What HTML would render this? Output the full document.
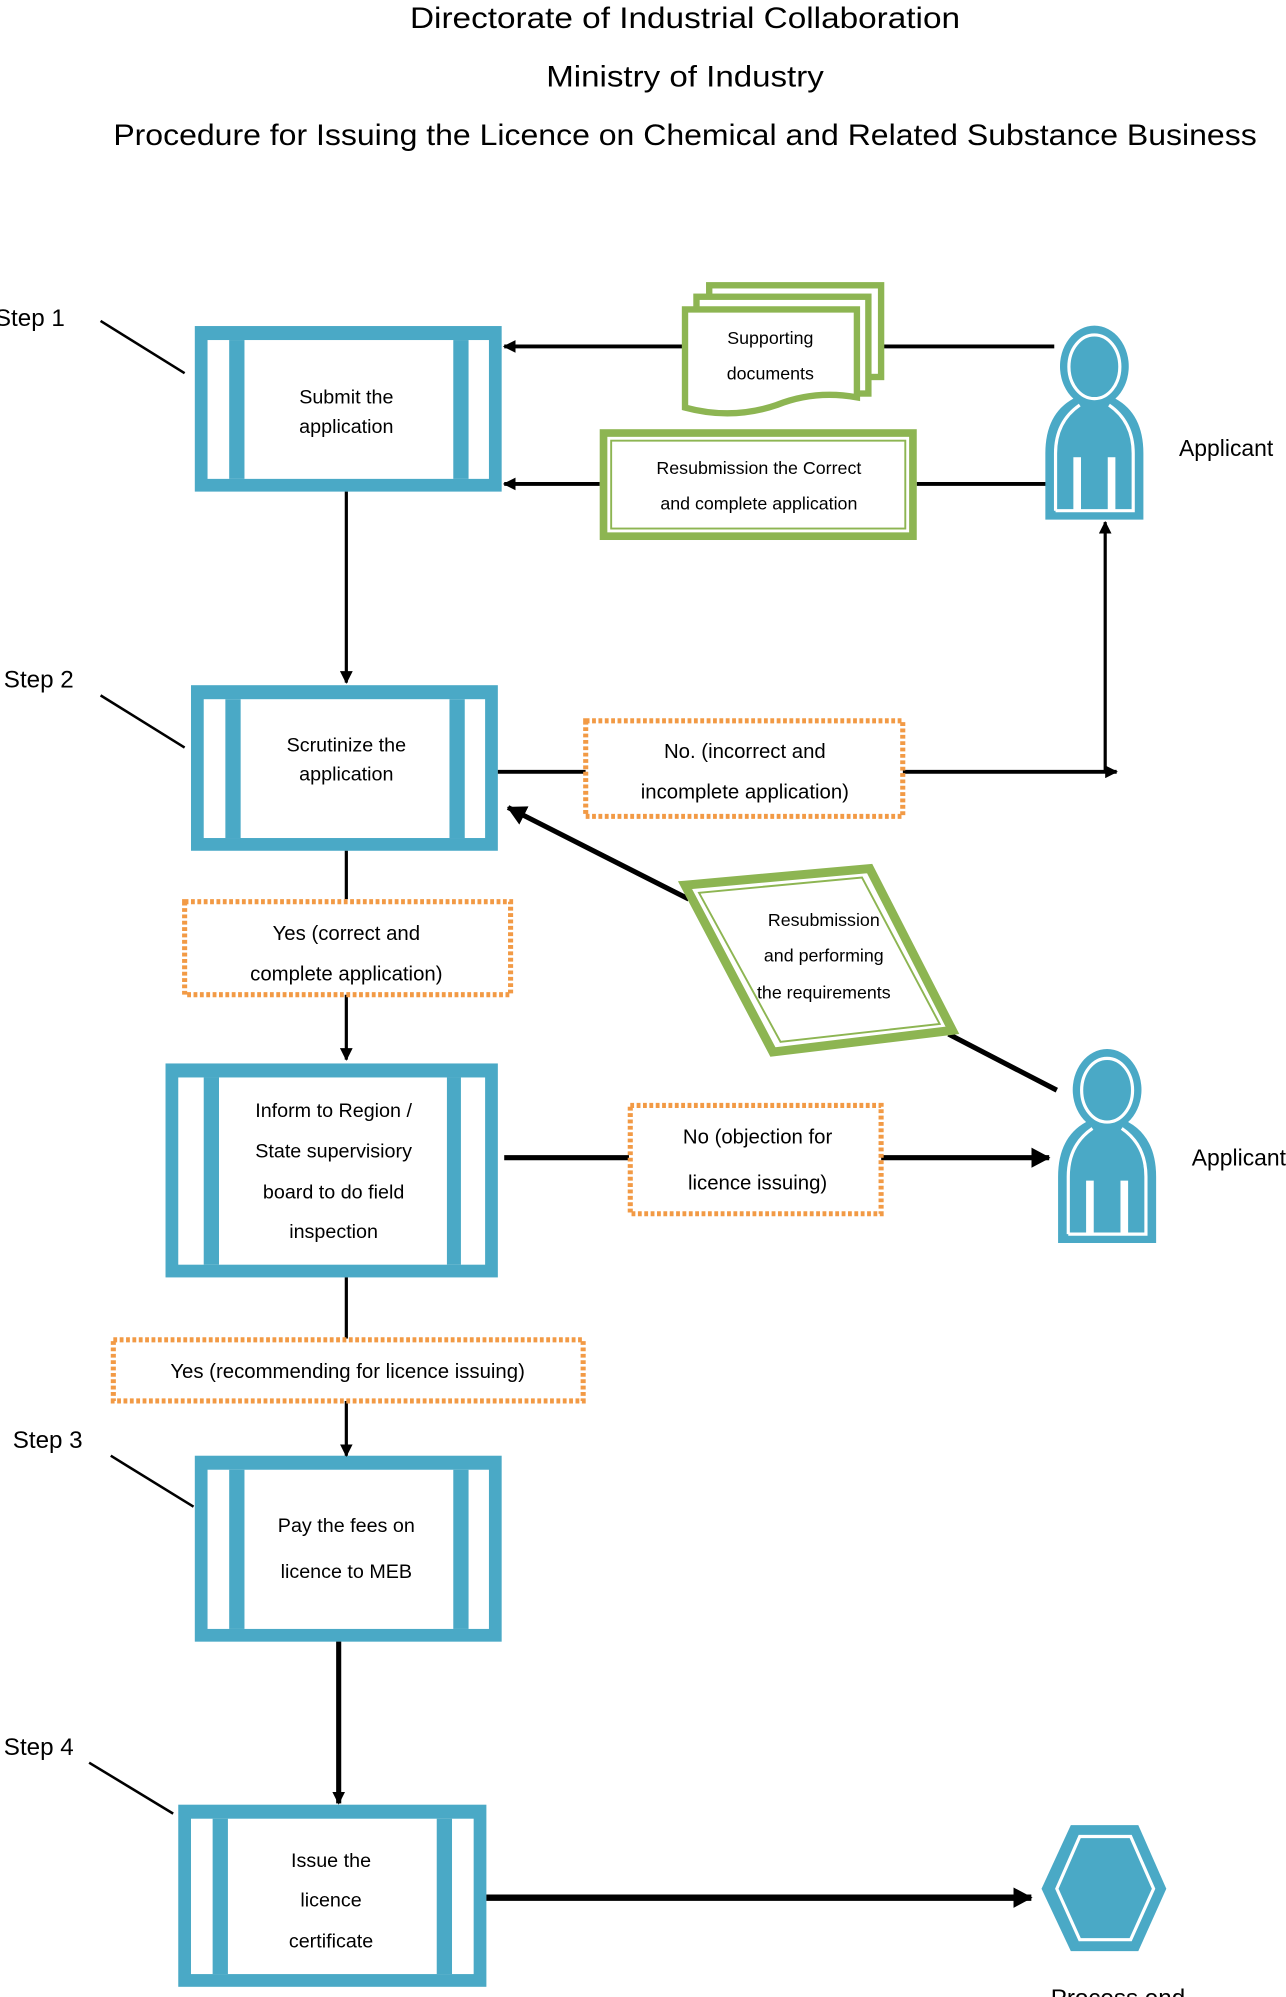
<!DOCTYPE html>
<html><head><meta charset="utf-8"><style>
html,body{margin:0;padding:0;background:#fff;}
svg{display:block;}
text{font-family:"Liberation Sans",sans-serif;fill:#000;}
</style></head><body>
<svg width="1286" height="1997" viewBox="0 0 1010 1568" preserveAspectRatio="none" xmlns="http://www.w3.org/2000/svg">
<defs>
<marker id="ah" markerWidth="10" markerHeight="10" refX="9" refY="5" orient="auto" markerUnits="userSpaceOnUse"><path d="M0,0 L10,5 L0,10 z" fill="#000"/></marker>
<marker id="ah2" markerWidth="16" markerHeight="16" refX="14" refY="8" orient="auto" markerUnits="userSpaceOnUse"><path d="M0,0 L15,8 L0,16 z" fill="#000"/></marker>
<g id="person">
<path d="M0,157 L0,105 Q0,74 22,62 A27,32 0 1 1 55,62 Q77,74 77,105 L77,157 Z" fill="#4aa9c6"/>
<path d="M8,150 L8,105 Q8,80 27,67 M50,67 Q69,80 69,105 L69,150 L8,150" fill="none" stroke="#fff" stroke-width="2.5"/>
<ellipse cx="38.5" cy="37" rx="20" ry="25" fill="none" stroke="#fff" stroke-width="2.5"/>
<rect x="22" y="108" width="6" height="42" fill="#fff"/>
<rect x="49" y="108" width="6" height="42" fill="#fff"/>
</g>
</defs>

<!-- titles -->
<text x="538" y="22" font-size="23" text-anchor="middle" textLength="432" lengthAdjust="spacingAndGlyphs">Directorate of Industrial Collaboration</text>
<text x="538" y="68" font-size="23" text-anchor="middle" textLength="218" lengthAdjust="spacingAndGlyphs">Ministry of Industry</text>
<text x="538" y="114" font-size="23" text-anchor="middle" textLength="898" lengthAdjust="spacingAndGlyphs">Procedure for Issuing the Licence on Chemical and Related Substance Business</text>

<!-- step labels -->
<g font-size="19">
<text x="-4" y="256">Step 1</text>
<text x="3" y="540">Step 2</text>
<text x="10" y="1137">Step 3</text>
<text x="3" y="1378">Step 4</text>
</g>
<g stroke="#000" stroke-width="2">
<line x1="79" y1="252" x2="145" y2="293"/>
<line x1="79" y1="546" x2="145" y2="587"/>
<line x1="87" y1="1143" x2="152" y2="1183"/>
<line x1="70" y1="1384" x2="136" y2="1424"/>
</g>

<!-- boxes -->
<g fill="#4aa9c6">
<rect x="153" y="256" width="241" height="130"/>
<rect x="150" y="538" width="241" height="130"/>
<rect x="130" y="835" width="261" height="168"/>
<rect x="153" y="1143" width="241" height="146"/>
<rect x="140" y="1417" width="242" height="143"/>
</g>
<g fill="#fff">
<rect x="163" y="267" width="221" height="109"/>
<rect x="160" y="549" width="221" height="109"/>
<rect x="140" y="846" width="241" height="147"/>
<rect x="163" y="1154" width="221" height="125"/>
<rect x="150" y="1428" width="222" height="122"/>
</g>
<g fill="#4aa9c6">
<rect x="180" y="267" width="12" height="109"/><rect x="356" y="267" width="12" height="109"/>
<rect x="177" y="549" width="12" height="109"/><rect x="353" y="549" width="12" height="109"/>
<rect x="160" y="846" width="12" height="147"/><rect x="351" y="846" width="11" height="147"/>
<rect x="180" y="1154" width="12" height="125"/><rect x="356" y="1154" width="12" height="125"/>
<rect x="167" y="1428" width="12" height="122"/><rect x="343" y="1428" width="12" height="122"/>
</g>
<g font-size="15.5" text-anchor="middle">
<text x="272" y="317">Submit the</text><text x="272" y="340">application</text>
<text x="272" y="590">Scrutinize the</text><text x="272" y="613">application</text>
<text x="262" y="877">Inform to Region /</text>
<text x="262" y="909">State  supervisiory</text>
<text x="262" y="941">board  to do field</text>
<text x="262" y="972">inspection</text>
<text x="272" y="1203">Pay the fees on</text><text x="272" y="1239">licence to MEB</text>
<text x="260" y="1466">Issue  the</text><text x="260" y="1497">licence</text><text x="260" y="1529">certificate</text>
</g>

<!-- connectors -->
<g stroke="#000" stroke-width="2.5" fill="none">
<line x1="272" y1="386" x2="272" y2="536" marker-end="url(#ah)"/>
<line x1="272" y1="668" x2="272" y2="706"/>
<line x1="272" y1="781" x2="272" y2="832" marker-end="url(#ah)"/>
<line x1="272" y1="1003" x2="272" y2="1051"/>
<line x1="272" y1="1100" x2="272" y2="1143" marker-end="url(#ah)"/>
<line x1="266" y1="1289" x2="266" y2="1416" stroke-width="4" marker-end="url(#ah)"/>
<line x1="382" y1="1490" x2="810" y2="1490" stroke-width="5" marker-end="url(#ah2)"/>
<line x1="536" y1="272" x2="396" y2="272" stroke-width="3" marker-end="url(#ah)"/>
<line x1="694" y1="272" x2="828" y2="272" stroke-width="3"/>
<line x1="471" y1="380" x2="396" y2="380" stroke-width="3" marker-end="url(#ah)"/>
<line x1="720" y1="380" x2="828" y2="380" stroke-width="3"/>
<line x1="391" y1="606" x2="460" y2="606" stroke-width="3"/>
<line x1="709" y1="606" x2="877" y2="606" stroke-width="3" marker-end="url(#ah)"/>
<line x1="868" y1="606" x2="868" y2="410" stroke-width="2.5" marker-end="url(#ah)"/>
<line x1="541" y1="706" x2="399" y2="634" stroke-width="4" marker-end="url(#ah2)"/>
<line x1="745" y1="812" x2="830" y2="856" stroke-width="4"/>
<line x1="396" y1="909" x2="494" y2="909" stroke-width="4"/>
<line x1="692" y1="909" x2="824" y2="909" stroke-width="4" marker-end="url(#ah2)"/>
</g>

<!-- orange dashed boxes -->
<g fill="#fff" stroke="#f29a45" stroke-width="4" stroke-dasharray="3,2">
<rect x="460" y="566" width="249" height="75"/>
<rect x="145" y="708" width="256" height="73"/>
<rect x="495" y="868" width="197" height="85"/>
<rect x="89" y="1052" width="369" height="48"/>
</g>
<g font-size="16" text-anchor="middle">
<text x="585" y="595">No. (incorrect and</text><text x="585" y="627">incomplete application)</text>
<text x="272" y="738">Yes (correct and</text><text x="272" y="770">complete application)</text>
<text x="595" y="898">No (objection for</text><text x="595" y="934">licence issuing)</text>
<text x="273" y="1082">Yes (recommending for licence issuing)</text>
</g>

<!-- supporting documents -->
<g fill="#fff" stroke="#8db552" stroke-width="5">
<rect x="557" y="224" width="135" height="72"/>
<rect x="547" y="233" width="135" height="76"/>
<path d="M538,243 L673,243 L673,312 Q640,306 610,318 Q575,330 538,320 Z"/>
</g>
<g font-size="14" text-anchor="middle">
<text x="605" y="270">Supporting</text><text x="605" y="298">documents</text>
</g>

<!-- resubmission box -->
<rect x="474" y="340" width="243" height="81" fill="#fff" stroke="#8db552" stroke-width="6"/>
<rect x="480" y="346" width="231" height="69" fill="none" stroke="#8db552" stroke-width="1.5"/>
<g font-size="14" text-anchor="middle">
<text x="596" y="372">Resubmission the  Correct</text><text x="596" y="400">and complete application</text>
</g>

<!-- parallelogram -->
<polygon points="538,695 683,682 748,809 607,826" fill="#fff" stroke="#8db552" stroke-width="7" stroke-linejoin="miter"/>
<polygon points="549,701 677,689 738,804 613,818" fill="none" stroke="#8db552" stroke-width="1.5"/>
<g font-size="14" text-anchor="middle">
<text x="647" y="727">Resubmission</text><text x="647" y="755">and performing</text><text x="647" y="784">the requirements</text>
</g>

<!-- applicants -->
<use href="#person" x="821" y="251"/>
<use href="#person" x="831" y="819"/>
<text x="926" y="358" font-size="18">Applicant</text>
<text x="936" y="915" font-size="18">Applicant</text>

<!-- hexagon -->
<polygon points="841,1433 894,1433 916,1483 894,1532 841,1532 818,1483" fill="#4aa9c6"/>
<polygon points="848,1442 888,1442 906,1483 888,1523 848,1523 830,1483" fill="none" stroke="#fff" stroke-width="2.5"/>
<text x="878" y="1575" font-size="19" text-anchor="middle">Process end</text>
</svg>
</body></html>
